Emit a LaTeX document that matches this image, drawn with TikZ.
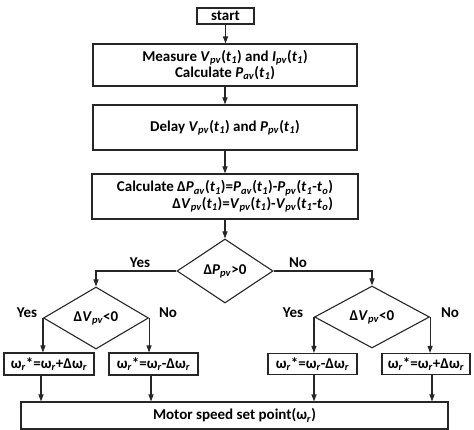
\documentclass[tikz,border=0pt]{standalone}
\usepackage{fontspec}
\setmainfont{Carlito}
\usetikzlibrary{shapes.geometric,arrows.meta}
\newcommand\vsub[2]{\textit{#1}\textsubscript{\textit{#2}}}
\newcommand\tone{\vsub{t}{1}}
\newcommand\om[1]{ω\textsubscript{\textit{#1}}}
\begin{document}
\begin{tikzpicture}[x=1pt,y=-1pt,
  font=\fontsize{15}{16.5}\selectfont\bfseries,
  box/.style={draw=black!85, line width=1.1pt, inner sep=0pt, align=center},
  dia/.style={draw=black!85, line width=1.1pt, diamond, inner sep=0pt},
  arr/.style={draw=black!85, line width=1.1pt, -{Triangle[length=7pt,width=5pt]}},
  lab/.style={inner sep=0pt}]
\useasboundingbox (0,0) rectangle (474,430);

\node[box, minimum width=57pt, minimum height=16pt] (start) at (225.5,16) {start};
\node[box, minimum width=264pt, minimum height=42pt] (meas) at (225,65)
  {Measure \vsub{V}{pv}(\tone) and \vsub{I}{pv}(\tone)\\Calculate \vsub{P}{av}(\tone)};
\node[box, minimum width=264pt, minimum height=45pt] (delay) at (225,127.5)
  {Delay \vsub{V}{pv}(\tone) and \vsub{P}{pv}(\tone)};
\node[box, minimum width=266pt, minimum height=45pt, align=right] (calc) at (225,196.5)
  {Calculate Δ\vsub{P}{av}(\tone)=\vsub{P}{av}(\tone)-\vsub{P}{pv}(\tone-\vsub{t}{o})\\
   Δ\vsub{V}{pv}(\tone)=\vsub{V}{pv}(\tone)-\vsub{V}{pv}(\tone-\vsub{t}{o})};

\node[dia, minimum width=96pt, minimum height=64pt] (d1) at (225,271) {Δ\vsub{P}{pv}>0};
\node[dia, minimum width=105pt, minimum height=62pt] (d2) at (96,318) {Δ\vsub{V}{pv}<0};
\node[dia, minimum width=115pt, minimum height=62pt] (d3) at (372,317) {Δ\vsub{V}{pv}<0};

\node[box, minimum width=90pt, minimum height=22pt] (b1) at (49,364) {\om{r}*=\om{r}+Δ\om{r}};
\node[box, minimum width=89pt, minimum height=22pt] (b2) at (153.5,364) {\om{r}*=\om{r}-Δ\om{r}};
\node[box, minimum width=89pt, minimum height=21pt] (b3) at (312.5,364) {\om{r}*=\om{r}-Δ\om{r}};
\node[box, minimum width=88pt, minimum height=21pt] (b4) at (426,364) {\om{r}*=\om{r}+Δ\om{r}};

\node[box, minimum width=427pt, minimum height=27pt] (bot) at (234.5,415.5) {Motor speed set point(\om{r})};

\draw[arr] (start.south) -- (start.south |- meas.north);
\draw[arr] (meas.south) -- (meas.south |- delay.north);
\draw[arr] (delay.south) -- (delay.south |- calc.north);
\draw[arr] (calc.south) -- (calc.south |- d1.north);

\draw[arr] (d1.west) -| (d2.north);
\draw[arr] (d1.east) -| (d3.north);
\draw[arr] (d2.west) -- (d2.west |- b1.north);
\draw[arr] (d2.east) -- (d2.east |- b2.north);
\draw[arr] (d3.west) -- (d3.west |- b3.north);
\draw[arr] (d3.east) -- (d3.east |- b4.north);

\draw[arr] ([xshift=-8pt]b1.south) -- ([xshift=-8pt]b1.south |- bot.north);
\draw[arr] ([xshift=-2.5pt]b2.south) -- ([xshift=-2.5pt]b2.south |- bot.north);
\draw[arr] ([xshift=1.5pt]b3.south) -- ([xshift=1.5pt]b3.south |- bot.north);
\draw[arr] ([xshift=6pt]b4.south) -- ([xshift=6pt]b4.south |- bot.north);

\node[lab] (yes1) at (140,263) {Yes};
\node[lab] (no1) at (298,263) {No};
\node[lab] (yes2) at (27,313) {Yes};
\node[lab] (no2) at (168,313) {No};
\node[lab] (yes3) at (293,313) {Yes};
\node[lab] (no3) at (450,313) {No};
\end{tikzpicture}
\end{document}
